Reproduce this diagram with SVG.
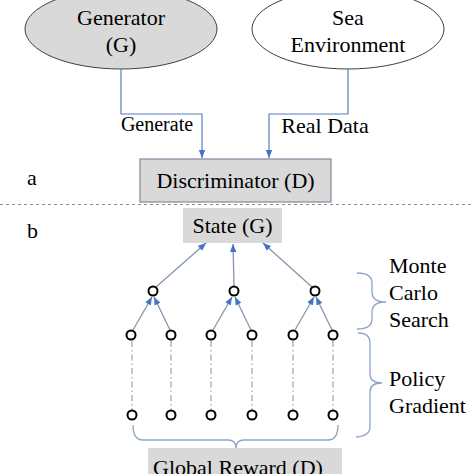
<svg xmlns="http://www.w3.org/2000/svg" width="474" height="474" viewBox="0 0 474 474">
<style>
  text { font-family: "Liberation Serif", "Times New Roman", serif; fill: #000; }
  .big { font-size: 22px; }
  .mid { font-size: 20px; }
  .conn { fill: none; stroke: #5b7fbf; stroke-width: 1.2; }
  .tree { fill: none; stroke: #8496b0; stroke-width: 1.3; }
  .dd { fill: none; stroke: #9aa3b5; stroke-width: 1.2; stroke-dasharray: 6 3 1.5 3; }
  .brace { fill: none; stroke: #8fa3c7; stroke-width: 1.3; }
  .node { fill: #fff; stroke: #000; stroke-width: 2; }
</style>
<defs>
  <marker id="arr" markerUnits="userSpaceOnUse" markerWidth="8" markerHeight="8" viewBox="0 0 8 8" refX="8" refY="4" orient="auto">
    <path d="M0,0.8 L8,4 L0,7.2 Z" fill="#4472c4"/>
  </marker>
</defs>
<rect width="474" height="474" fill="#fff"/>

<g id="generator">
  <ellipse cx="121" cy="29" rx="96" ry="40" fill="#d9d9d9" stroke="#404040" stroke-width="1"/>
  <text class="big" x="121" y="25" text-anchor="middle">Generator</text>
  <text class="big" x="121" y="52" text-anchor="middle">(G)</text>
</g>
<g id="sea">
  <ellipse cx="348" cy="29" rx="96" ry="40" fill="#fff" stroke="#404040" stroke-width="1"/>
  <text class="big" x="348" y="25" text-anchor="middle">Sea</text>
  <text class="big" x="348" y="52" text-anchor="middle">Environment</text>
</g>
<g id="discriminator">
  <rect x="140" y="159" width="191" height="43" fill="#d9d9d9" stroke="#7f8a9e" stroke-width="1.2"/>
  <text class="big" x="235.5" y="188" text-anchor="middle">Discriminator (D)</text>
</g>
<g id="labels">
  <text class="big" x="27" y="185">a</text>
  <text class="big" x="27" y="238">b</text>
</g>
<line x1="0" y1="204.5" x2="474" y2="204.5" stroke="#8c8c8c" stroke-width="1.2" stroke-dasharray="3 3"/>
<g id="state">
  <rect x="183" y="208" width="99" height="35" fill="#d9d9d9"/>
  <text class="big" x="232.5" y="233" text-anchor="middle">State (G)</text>
</g>
<g id="reward">
  <rect x="148" y="448" width="194" height="30" fill="#d9d9d9"/>
  <text class="big" x="238" y="475" text-anchor="middle">Global Reward (D)</text>
</g>

<g id="connectors">
  <polyline class="conn" points="121,69 121,114 202,114 202,158" marker-end="url(#arr)"/>
  <polyline class="conn" points="348,69 348,114 269,114 269,158" marker-end="url(#arr)"/>
  <text class="mid" x="157" y="131" text-anchor="middle">Generate</text>
  <text class="big" x="325" y="133" text-anchor="middle">Real Data</text>

  <line class="tree" x1="156" y1="287" x2="206" y2="243" marker-end="url(#arr)"/>
  <line class="tree" x1="234" y1="286" x2="233" y2="244" marker-end="url(#arr)"/>
  <line class="tree" x1="312" y1="287" x2="263" y2="243" marker-end="url(#arr)"/>

  <line class="tree" x1="133" y1="330" x2="152" y2="297" marker-end="url(#arr)"/>
  <line class="tree" x1="170" y1="330" x2="154" y2="297" marker-end="url(#arr)"/>
  <line class="tree" x1="213" y1="330" x2="232" y2="297" marker-end="url(#arr)"/>
  <line class="tree" x1="251" y1="330" x2="235" y2="297" marker-end="url(#arr)"/>
  <line class="tree" x1="295" y1="330" x2="314" y2="297" marker-end="url(#arr)"/>
  <line class="tree" x1="332" y1="330" x2="316" y2="297" marker-end="url(#arr)"/>

  <line class="dd" x1="132" y1="341" x2="132" y2="410"/>
  <line class="dd" x1="171" y1="341" x2="171" y2="410"/>
  <line class="dd" x1="211" y1="341" x2="211" y2="410"/>
  <line class="dd" x1="252" y1="341" x2="252" y2="410"/>
  <line class="dd" x1="293" y1="341" x2="293" y2="410"/>
  <line class="dd" x1="333" y1="341" x2="333" y2="410"/>
</g>

<g id="nodes">
  <circle class="node" cx="153" cy="291" r="4.5"/>
  <circle class="node" cx="234" cy="291" r="4.5"/>
  <circle class="node" cx="315" cy="291" r="4.5"/>
  <circle class="node" cx="131" cy="335" r="4.5"/>
  <circle class="node" cx="171" cy="335" r="4.5"/>
  <circle class="node" cx="211" cy="335" r="4.5"/>
  <circle class="node" cx="252" cy="335" r="4.5"/>
  <circle class="node" cx="293" cy="335" r="4.5"/>
  <circle class="node" cx="333" cy="335" r="4.5"/>
  <circle class="node" cx="132" cy="415" r="4.5"/>
  <circle class="node" cx="171" cy="415" r="4.5"/>
  <circle class="node" cx="211" cy="415" r="4.5"/>
  <circle class="node" cx="252" cy="415" r="4.5"/>
  <circle class="node" cx="293" cy="415" r="4.5"/>
  <circle class="node" cx="333" cy="415" r="4.5"/>
</g>

<g id="braces">
  <path class="brace" d="M357,273 Q372,273 372,283 L372,292 Q372,302 386,302 Q372,302 372,312 L372,319 Q372,329 357,329"/>
  <path class="brace" d="M358,333 Q370,333 370,343 L370,374 Q370,383 382,383 Q370,383 370,392 L370,427 Q370,436 356,437"/>
  <path class="brace" d="M133,425 Q133,440 143,440 L228,440 Q236,440 236,448 Q236,440 244,440 L328,440 Q338,440 338,425"/>
  <text class="big" x="389" y="273">Monte</text>
  <text class="big" x="389" y="300">Carlo</text>
  <text class="big" x="389" y="327">Search</text>
  <text class="big" x="389" y="386">Policy</text>
  <text class="big" x="389" y="413">Gradient</text>
</g>
</svg>
